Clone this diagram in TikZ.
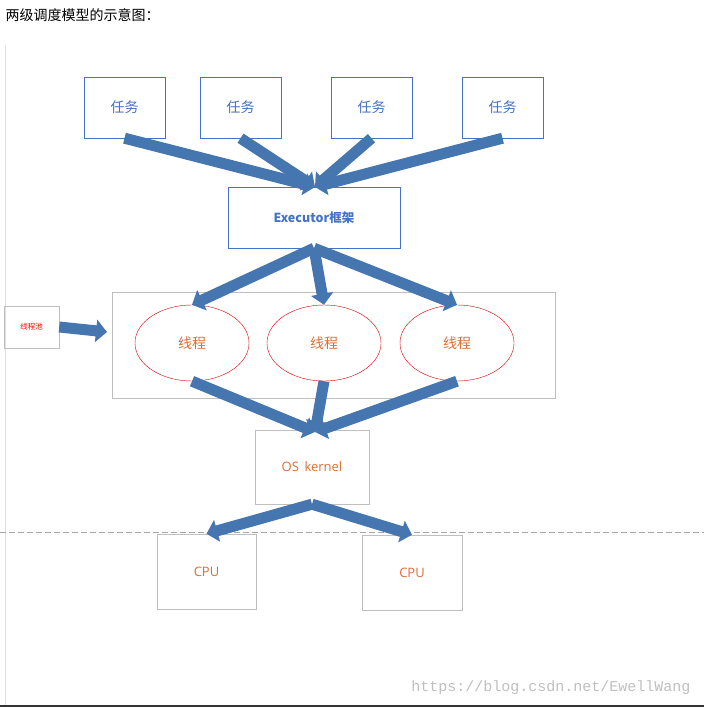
\documentclass[tikz,border=0pt]{standalone}
\usepackage{fontspec}
\setmainfont{Open Sans}
\newfontfamily\cjk{Noto Sans CJK SC}
\usetikzlibrary{positioning, calc}
\usetikzlibrary{arrows.meta}
\usetikzlibrary{shapes.geometric}
\definecolor{arrowblue}{RGB}{70,118,176}
\definecolor{boxblue}{RGB}{68,114,196}
\definecolor{txtorange}{RGB}{220,110,50}
\begin{document}
\begin{tikzpicture}[x=1pt,y=-1pt]
	\tikzstyle{t-node}=[draw=boxblue,thin,text=boxblue,minimum width=81pt,minimum height=61pt,inner sep=0pt,font=\cjk\fontsize{14}{16}\selectfont]
	\tikzstyle{g-node}=[draw=black!25,thin,text=txtorange,inner sep=0pt,font=\fontsize{13}{15}\selectfont]
	\tikzstyle{e-node}=[ellipse,draw=red!85!black,thin,text=txtorange,minimum width=114pt,minimum height=76pt,inner sep=0pt,font=\cjk\fontsize{14}{16}\selectfont]
	\tikzstyle{fat}=[arrowblue,line width=11pt,-{Triangle[length=11pt,width=22pt]}]
	\useasboundingbox (0,0) rectangle (704,708);

	\node[anchor=west,font=\cjk\fontsize{14}{16}\selectfont] (title) at (2,15) {两级调度模型的示意图：};
	\draw[black!12] (5,45) -- (5,705);
	\draw[black!80,line width=2pt] (0,706) -- (704,706);

	% tasks
	\node[t-node] (task1) at (124.5,107.5) {任务};
	\node[t-node] (task2) at (240.5,107.5) {任务};
	\node[t-node] (task3) at (371.5,107.5) {任务};
	\node[t-node] (task4) at (502.5,107.5) {任务};
	\node[t-node,minimum width=172pt,font=\fontsize{12.5}{14}\selectfont\bfseries\cjk] (exec) at (314,217.5) {Executor框架};
	\coordinate (hub1) at (315,187);

	% pool
	\node[draw=black!25,thin,minimum width=443pt,minimum height=106pt] (pool) at (333.5,345) {};
	\node[e-node] (th1) at (192,343) {线程};
	\node[e-node] (th2) at (324,343) {线程};
	\node[e-node] (th3) at (457,343) {线程};
	\node[g-node,text=red,minimum width=55pt,minimum height=42pt,font=\cjk\fontsize{7.5}{9}\selectfont] (poollabel) at (31.5,327) {线程池};
	\coordinate (poolin) at (107,332);

	% kernel, cpus
	\node[g-node,minimum width=114pt,minimum height=74pt] (kernel) at (312,467) {OS\, kernel};
	\node[g-node,minimum width=99pt,minimum height=75pt] (cpu1) at (206.5,571.5) {CPU};
	\node[g-node,minimum width=100pt,minimum height=75pt] (cpu2) at (412,572.5) {CPU};
	\coordinate (hub2) at (315,432);
	\draw[black!35,dash pattern=on 6pt off 3pt] (0,532) -- (704,532);

	\node[anchor=east,text=black!25,font=\fontspec{Liberation Mono}\fontsize{15}{17}\selectfont] (mark) at (694,688) {https://blog.csdn.net/EwellWang};

	% arrows
	\draw[fat] (task1.south) -- (hub1);
	\draw[fat] (task2.south) -- (hub1);
	\draw[fat] (task3.south) -- (hub1);
	\draw[fat] (task4.south) -- (hub1);
	\draw[fat] (exec.south) -- (th1.north);
	\draw[fat] (exec.south) -- (th2.north);
	\draw[fat] (exec.south) -- (th3.north);
	\draw[fat] (poollabel.east) -- (poolin);
	\draw[fat] (th1.south) -- (hub2);
	\draw[fat] (th2.south) -- (hub2);
	\draw[fat] (th3.south) -- (hub2);
	\draw[fat] (kernel.south) -- (cpu1.north);
	\draw[fat] (kernel.south) -- (cpu2.north);
\end{tikzpicture}
\end{document}
